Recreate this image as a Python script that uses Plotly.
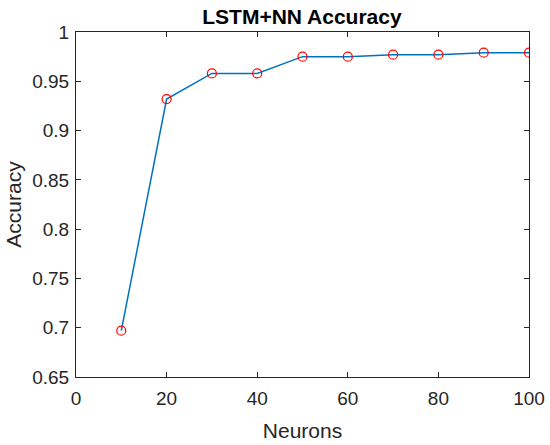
import plotly.graph_objects as go

# Data
neurons = [10, 20, 30, 40, 50, 60, 70, 80, 90, 100]
accuracy = [0.697, 0.932, 0.958, 0.958, 0.975, 0.975, 0.977, 0.977, 0.979, 0.979]

x_ticks = [0, 20, 40, 60, 80, 100]
y_ticks = [0.65, 0.7, 0.75, 0.8, 0.85, 0.9, 0.95, 1]
y_labels = ['0.65', '0.7', '0.75', '0.8', '0.85', '0.9', '0.95', '1']

fig = go.Figure()

# line
fig.add_trace(go.Scatter(
    x=neurons, y=accuracy,
    mode='lines',
    line=dict(color='#0072BD', width=1.5),
    showlegend=False
))

# red open circles
fig.add_trace(go.Scatter(
    x=neurons, y=accuracy,
    mode='markers',
    marker=dict(symbol='circle-open', color='#FF0000', size=9, line=dict(width=1.2)),
    showlegend=False
))

axis_common = dict(
    showgrid=False,
    zeroline=False,
    showline=True,
    linecolor='#262626',
    linewidth=1,
    mirror='ticks',
    ticks='inside',
    ticklen=5,
    tickcolor='#262626',
    tickfont=dict(family='Liberation Sans', size=19, color='#262626'),
)

fig.update_layout(
    width=550,
    height=445,
    plot_bgcolor='white',
    paper_bgcolor='white',
    margin=dict(l=76, r=21, t=32, b=68, autoexpand=False),
    title=dict(
        text='<b>LSTM+NN Accuracy</b>',
        x=0.549, xanchor='center',
        y=0.963, yanchor='middle',
        font=dict(family='Liberation Sans', size=21, color='black')
    ),
    xaxis=dict(
        range=[0, 100],
        tickvals=x_ticks,
        ticklabelstandoff=4,
        title=dict(text='Neurons', font=dict(family='Liberation Sans', size=21, color='#262626'), standoff=15),
        **axis_common
    ),
    yaxis=dict(
        range=[0.65, 1],
        tickvals=y_ticks,
        ticktext=y_labels,
        ticklabelstandoff=2,
        title=dict(text='Accuracy', font=dict(family='Liberation Sans', size=21, color='#262626'), standoff=4),
        **axis_common
    ),
)

# drop the default page margin so the figure sits at the window's top-left
fig.write_html("out.html", config={'displayModeBar': False},
               post_script="document.body.style.margin='0';")
